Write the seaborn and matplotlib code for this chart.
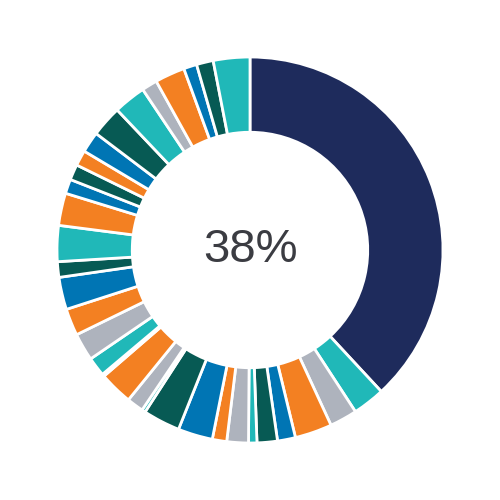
import matplotlib
matplotlib.use("Agg")
import matplotlib.pyplot as plt
import seaborn as sns

# Slice values (percent), clockwise from 12 o'clock
values = [38.0,
          2.7, 2.3, 3.1, 1.5, 1.7,
          0.7, 1.8, 1.2, 2.9, 3.1,
          0.3, 1.4, 2.8, 0.2,
          1.6, 2.3, 2.25, 2.7, 1.3,
          3.0, 2.7, 1.2, 1.3,
          1.3, 1.75, 2.6,
          2.7, 1.3, 2.5, 1.1, 1.4,
          3.05]
# Colour key per slice
color_keys = ["navy",
              "teal", "gray", "orange", "blue", "dkgreen",
              "teal", "gray", "orange", "blue", "dkgreen",
              "teal", "gray", "orange", "dkgreen",
              "teal", "gray", "orange", "blue", "dkgreen",
              "teal", "orange", "blue", "dkgreen",
              "orange", "blue", "dkgreen",
              "teal", "gray", "orange", "blue", "dkgreen",
              "teal"]
center_label = "38%"

palette = {
    "navy": "#1e2b5c",
    "teal": "#20b8b8",
    "gray": "#aeb3bd",
    "orange": "#f38022",
    "blue": "#0075b4",
    "dkgreen": "#075a54",
}

sns.set_theme(style="white")
plt.rcParams['font.family'] = ['Liberation Sans', 'DejaVu Sans']

fig = plt.figure(figsize=(5, 5), dpi=100)
ax = fig.add_axes([0, 0, 1, 1])
colors = [palette[k] for k in color_keys]
ax.pie(values, colors=colors, startangle=90, counterclock=False,
       radius=1.0,
       wedgeprops=dict(width=0.39, edgecolor="white", linewidth=2))
ax.text(0, 0, center_label, ha="center", va="center",
        fontsize=34, color="#3b3c42")
lim = 250 / 193
ax.set_xlim(-lim, lim)
ax.set_ylim(-lim, lim)
ax.set_aspect("equal")
ax.axis("off")
fig.savefig("out.png", dpi=100, facecolor="white")
